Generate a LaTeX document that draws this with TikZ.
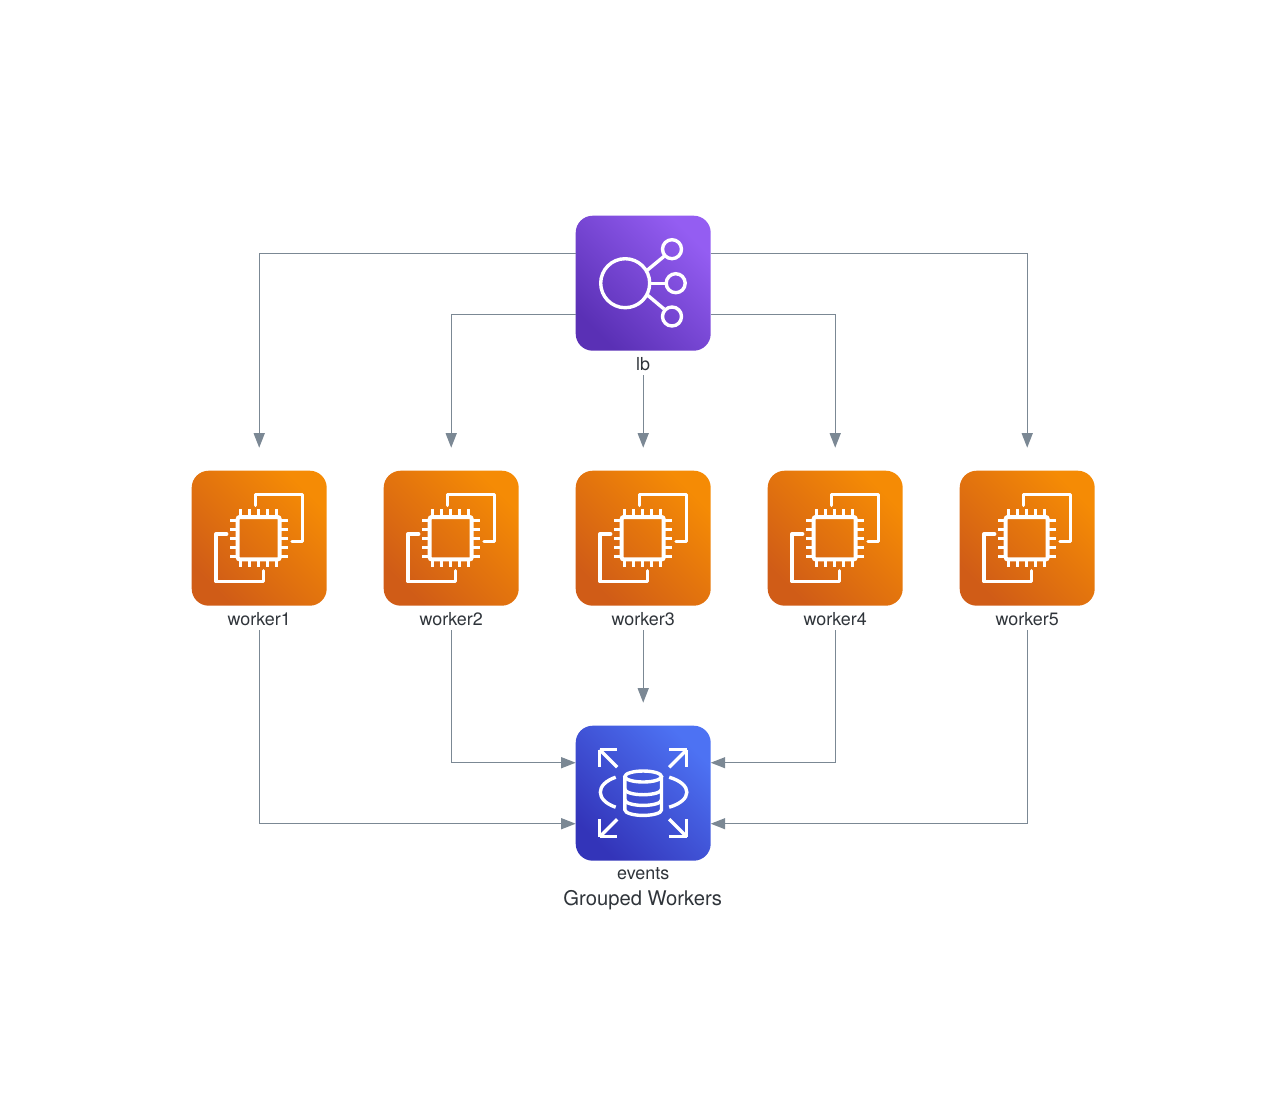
\documentclass[tikz,border=0pt]{standalone}
\usepackage{fontspec}
\setmainfont{TeX Gyre Heros}
\usetikzlibrary{arrows.meta,calc}
\definecolor{edgegrey}{HTML}{7B8894}
\definecolor{labeltext}{HTML}{2F343A}
\definecolor{lbtop}{HTML}{945DF2}
\definecolor{lbbot}{HTML}{5A30B5}
\definecolor{ectop}{HTML}{F58B05}
\definecolor{ecbot}{HTML}{D05C17}
\definecolor{dbtop}{HTML}{4D72F3}
\definecolor{dbbot}{HTML}{3334B9}
\tikzset{
  iconbox/.style={inner sep=0pt,outer sep=0pt,minimum size=135pt,rounded corners=17pt},
  lbbox/.style={iconbox,bottom color=lbbot,top color=lbtop,shading angle=-45},
  ecbox/.style={iconbox,bottom color=ecbot,top color=ectop,shading angle=-45},
  dbbox/.style={iconbox,bottom color=dbbot,top color=dbtop,shading angle=-45},
  caption/.style={inner sep=0pt,outer sep=0pt,text=labeltext,minimum height=19pt,text height=13pt,text depth=4pt,font=\fontsize{17.9}{20}\selectfont},
  conn/.style={draw=edgegrey,line width=1.2pt,-{Triangle[length=14.5pt,width=11pt]}},
  glyph/.style={draw=white,line width=3.4pt,fill=none},
  lbicon/.pic={
    \draw[glyph] (-18,0) circle[radius=24.5];
    \draw[glyph] (28.8,-34) circle[radius=9.5];
    \draw[glyph] (32.5,0) circle[radius=9.5];
    \draw[glyph] (28.8,33.3) circle[radius=9.5];
    \draw[glyph] (3.8,-12.8) -- (20.8,-26.8);
    \draw[glyph] (7.5,0) -- (23,0);
    \draw[glyph] (3.8,11.5) -- (20.8,25.8);
  },
  ecicon/.pic={
    \draw[glyph,line join=round,line cap=round] (-3.9,-32.8) -- (-3.9,-43.5) -- (43.5,-43.5) -- (43.5,3.2) -- (32.8,3.2);
    \draw[glyph,line join=round,line cap=round] (-32.5,-4.2) -- (-43.2,-4.2) -- (-43.2,43.2) -- (4.1,43.2) -- (4.1,32.5);
    \draw[glyph,line width=4pt,rounded corners=2pt] (-21.5,-21.2) rectangle (20.5,21.2);
    \foreach \t in {-18,-9,0,9,18}{
      \draw[white,line width=3.2pt] (\t-0.5,-21.2) -- (\t-0.5,-29);
      \draw[white,line width=3.2pt] (\t-0.5,21.2) -- (\t-0.5,29);
      \draw[white,line width=3.2pt] (-21.5,\t) -- (-29.3,\t);
      \draw[white,line width=3.2pt] (20.5,\t) -- (28.3,\t);
    }
  },
  dbicon/.pic={
    \draw[glyph] (0,-16.7) ellipse[x radius=18.3,y radius=5.5];
    \draw[glyph] (-18.3,-16.7) -- (-18.3,16.7) arc[start angle=180,end angle=0,x radius=18.3,y radius=5.5] -- (18.3,-16.7);
    \draw[glyph] (-18.3,-4) arc[start angle=180,end angle=0,x radius=18.3,y radius=5.5];
    \draw[glyph] (-18.3,6.7) arc[start angle=180,end angle=0,x radius=18.3,y radius=5.5];
    \draw[glyph] (-27.5,-16) .. controls (-48,-9) and (-48,7) .. (-27.5,14);
    \draw[glyph] (26,-16) .. controls (49.5,-9) and (49.5,7) .. (26,14);
    \foreach \sx/\sy in {-1/-1,1/-1,-1/1,1/1}{
      \draw[glyph] ({\sx*43.5},{\sy*43.5}) -- ++({-\sx*17.5},0);
      \draw[glyph] ({\sx*43.5},{\sy*43.5}) -- ++(0,{-\sy*17.5});
      \draw[glyph] ({\sx*43.5},{\sy*43.5}) -- ++({-\sx*17.5},{-\sy*17.5});
    }
  }
}
\begin{document}
\begin{tikzpicture}[x=1pt,y=-1pt]
\useasboundingbox (0,0) rectangle (1287,1109);
\node[lbbox] (lb) at (643.2,283.2) {};
\pic at (lb.center) {lbicon};
\node[caption] (lbl) at (643.2,365.5) {lb};
\foreach \n/\x in {1/259.2,2/451.2,3/643.2,4/835.2,5/1027.2}{
  \node[ecbox] (w\n) at (\x,538.2) {};
  \pic at (w\n.center) {ecicon};
  \node[caption] (w\n l) at (\x,620.5) {worker\n};
}
\node[dbbox] (events) at (643.2,793.2) {};
\pic at (events.center) {dbicon};
\node[caption] (eventsl) at (643.2,874.5) {events};
\node[caption,font=\fontsize{20.2}{24}\selectfont] (group) at (642.7,901) {Grouped Workers};
\draw[conn] ([yshift=30pt]lb.west) -| ([yshift=23pt]w1.north);
\draw[conn] ([yshift=-31.5pt]lb.west) -| ([yshift=23pt]w2.north);
\draw[conn] (lbl.south) -- ([yshift=23pt]w3.north);
\draw[conn] ([yshift=-31.5pt]lb.east) -| ([yshift=23pt]w4.north);
\draw[conn] ([yshift=30pt]lb.east) -| ([yshift=23pt]w5.north);
\draw[conn] (w1l.south) |- ([yshift=-30.5pt]events.west);
\draw[conn] (w2l.south) |- ([yshift=30.5pt]events.west);
\draw[conn] (w3l.south) -- ([yshift=23pt]events.north);
\draw[conn] (w4l.south) |- ([yshift=30.5pt]events.east);
\draw[conn] (w5l.south) |- ([yshift=-30.5pt]events.east);
\end{tikzpicture}
\end{document}
